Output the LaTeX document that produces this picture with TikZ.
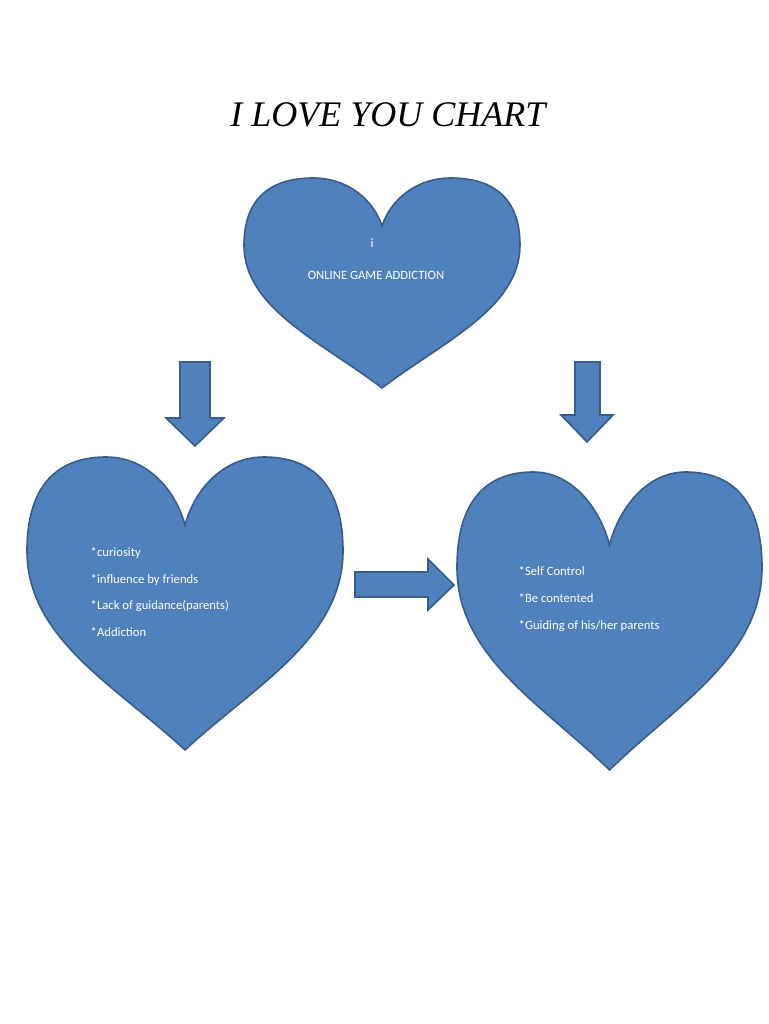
\documentclass[tikz,border=0pt]{standalone}
\usepackage{fontspec}
\setmainfont{Liberation Serif}
\newfontfamily\bodyfont{Carlito}
\definecolor{heartblue}{HTML}{4F81BD}
\definecolor{heartline}{HTML}{385D8A}
\tikzset{
  heart/.style={fill=heartblue, draw=heartline, line width=1.2pt},
  blockarrow/.style={fill=heartblue, draw=heartline, line width=1.2pt},
  label/.style={text=white, font=\bodyfont\fontsize{9.5}{12}\selectfont, align=left, anchor=west},
}
% heart: left, right, top, bottom, dip
\newcommand\drawheart[5]{%
  \pgfmathsetmacro\hw{#2-#1}\pgfmathsetmacro\hh{#4-#3}\pgfmathsetmacro\cx{(#1+#2)/2}%
  \draw[heart] (\cx,#4)
    .. controls (\cx-0.22*\hw,#4-0.22*\hh) and (#1,#3+0.62*\hh) .. (#1,#3+0.32*\hh)
    .. controls (#1,#3+0.07*\hh) and (\cx-0.38*\hw,#3) .. (\cx-0.25*\hw,#3)
    .. controls (\cx-0.12*\hw,#3) and (\cx-0.03*\hw,#5-0.12*\hh) .. (\cx,#5)
    .. controls (\cx+0.03*\hw,#5-0.12*\hh) and (\cx+0.12*\hw,#3) .. (\cx+0.25*\hw,#3)
    .. controls (\cx+0.38*\hw,#3) and (#2,#3+0.07*\hh) .. (#2,#3+0.32*\hh)
    .. controls (#2,#3+0.62*\hh) and (\cx+0.22*\hw,#4-0.22*\hh) .. (\cx,#4) -- cycle;}
\begin{document}
\begin{tikzpicture}[x=0.75pt,y=-0.75pt]
\useasboundingbox (0,0) rectangle (768,1024);

\node (title) at (388,115) {\fontsize{27}{32}\selectfont\itshape I LOVE YOU CHART};

% hearts
\drawheart{244}{520}{178}{388}{226}
\drawheart{27}{343}{457}{750}{525}
\drawheart{457}{762}{472}{770}{545}

% arrows
\draw[blockarrow] (180,362) -- (210,362) -- (210,418) -- (224,418) -- (195,446)
  -- (166,418) -- (180,418) -- cycle;
\draw[blockarrow] (575,362) -- (600,362) -- (600,415) -- (613,415) -- (587,442)
  -- (561,415) -- (575,415) -- cycle;
\draw[blockarrow] (355,572) -- (428,572) -- (428,559) -- (454,585) -- (428,610)
  -- (428,597) -- (355,597) -- cycle;

% texts
\node[label, anchor=center] (topi) at (372,243) {i};
\node[label, anchor=center] (topt) at (376,275) {ONLINE GAME ADDICTION};
\node[label] (causes) at (86,592) {*curiosity\\[8pt]*influence by friends\\[8pt]*Lack of guidance(parents)\\[8pt]*Addiction};
\node[label] (cures) at (514,599) {*Self Control\\[8pt]*Be contented\\[8pt]*Guiding of his/her parents};
\end{tikzpicture}
\end{document}
